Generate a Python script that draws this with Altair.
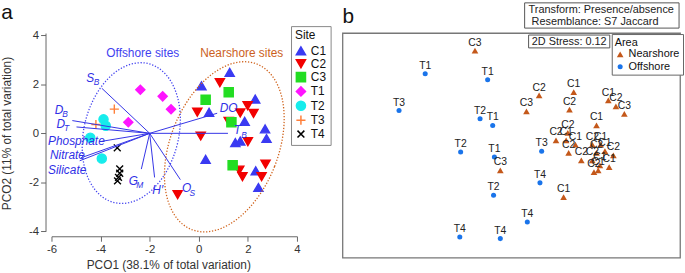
import numpy as np
import pandas as pd
import altair as alt

FONT = "Liberation Sans"

# ---------------- panel a : PCO ordination ----------------
sites = ["C1", "C2", "C3", "T1", "T2", "T3", "T4"]
c1_x = [1.26, 0.11, 0.42, 2.30, 1.87, 2.70, 2.76, 1.49, 1.69, 0.28, 2.32, 2.43]
c1_y = [2.49, 1.94, 0.86, 1.40, 0.49, 0.18, -0.21, -0.38, -0.32, -1.06, -1.53, -2.21]
c2_x = [0.86, -0.06, 0.08, 1.22, 1.69, 1.99, 2.23, 2.00, 2.72, 1.65, 1.78, 2.56, -0.86]
c2_y = [2.07, 0.86, -0.11, 0.49, 0.83, 1.13, 0.81, -0.34, -1.26, -1.50, -1.77, -1.77, -2.50]
c3_x = [1.22, 0.28, 1.33, 1.38]
c3_y = [1.68, 1.37, 0.45, -1.30]
t1_x = [-2.38, -1.47, -1.13, -2.87]
t1_y = [1.78, 1.51, 0.98, 0.45]
t2_x = [-3.88, -3.79, -4.42, -3.95]
t2_y = [0.57, 0.31, -0.18, -1.03]
t3_x = [-3.44, -4.19]
t3_y = [0.99, 0.36]
t4_x = [-3.32, -3.22, -3.22, -3.27, -3.31]
t4_y = [-0.59, -1.45, -1.63, -1.80, -1.94]

# environmental vectors (origin and tips)
vec_origin = (-2.0, 0.0)
vec_x = [-3.95, -5.15, -4.98, -3.97, -4.80, -4.85, -2.34, -1.80, -0.75, 0.75, 1.19]
vec_y = [1.84, 0.52, 0.26, -0.33, -1.00, -1.12, -1.46, -1.80, -1.89, 0.82, 0.0]
lab_main = ["S", "D", "D", "Phosphate", "Nitrate", "Silicate", "G", "H\u2032", "O", "DO", "T"]
lab_sub = ["B", "B", "T", "", "", "", "M", "", "S", "", "B"]
lab_x = [-4.58, -5.87, -5.80, -6.14, -6.06, -6.14, -2.85, -1.89, -0.68, 0.85, 1.42]
lab_y = [2.11, 0.80, 0.22, -0.48, -1.06, -1.64, -2.10, -2.47, -2.41, 0.87, -0.04]

# group ellipses
ell_group = ["Offshore sites", "Nearshore sites"]
ell_cx = [-2.75, 1.04]
ell_cy = [0.01, -0.55]
ell_a = [2.92, 3.63]
ell_b = [1.93, 2.20]
ell_tilt = [13.8, 21.4]
grp_lab_x = [-2.28, 1.75]
grp_lab_y = [3.10, 3.10]

# ---------------- panel b : nMDS ----------------
near_lab = ["C3", "C2", "C1", "C2", "C3", "C1", "C2", "C3", "C1", "C3", "C1",
            "C2", "C2", "C1", "C1", "C2", "C2", "C2", "C1", "C1", "C2", "C2",
            "C2", "C1", "C1", "C2", "C1"]
near_x = [-0.43, 0.33, 0.74, 0.69, 0.18, 1.15, 1.24, 1.34, 1.01, -0.13, 0.62,
          0.67, 0.53, 0.65, 0.76, 0.68, 0.83, 0.96, 1.06, 1.11, 1.21, 1.01,
          0.96, 1.16, 1.05, 0.98, 1.03]
near_y = [1.14, 0.60, 0.64, 0.43, 0.41, 0.54, 0.47, 0.38, 0.24, -0.30, -0.62,
          0.15, 0.06, 0.06, 0.01, -0.09, -0.18, 0.01, 0.01, -0.07, -0.12, -0.09,
          -0.18, -0.26, -0.24, -0.32, -0.30]
off_lab = ["T1", "T1", "T3", "T2", "T1", "T2", "T1", "T3", "T4", "T2", "T4", "T4", "T4"]
off_x = [-1.02, -0.28, -1.33, -0.37, -0.22, -0.60, -0.20, 0.36, 0.34, -0.21, 0.19, -0.61, -0.13]
off_y = [0.86, 0.79, 0.42, 0.32, 0.24, -0.08, -0.14, -0.07, -0.45, -0.60, -0.92, -1.10, -1.12]
stress_text = ["2D Stress: 0.12"]
transform_text = ["Transform: Presence/absence"]
resemblance_text = ["Resemblance: S7 Jaccard"]

# ================= build panel a =================
W_A, H_A = 248, 200.3
xs = alt.Scale(domain=[-6, 4], nice=False, zero=False)
ys = alt.Scale(domain=[-4, 4.093], nice=False, zero=False)
axis_common = dict(grid=False, tickSize=5, labelPadding=2, labelFontSize=11.5,
                   titleFontSize=12, titleFontWeight="normal", labelColor="#333",
                   titleColor="#333", domainColor="#666", tickColor="#666",
                   labelFont=FONT, titleFont=FONT, labelExpr="'' + datum.value",
                   labelFlush=False, labelOverlap=False)
ax_x = alt.Axis(values=[-6, -4, -2, 0, 2, 4], title="PCO1 (38.1% of total variation)",
                offset=5, titleX=118, titleY=32.5, titleAlign="center",
                titleBaseline="alphabetic", **axis_common)
ax_y = alt.Axis(values=[-4, -2, 0, 2, 4], title="PCO2 (11% of total variation)",
                offset=6, titleX=-32, titleY=101, titleAngle=270,
                titleAlign="center", titleBaseline="bottom", **axis_common)
X = alt.X("x:Q", scale=xs, axis=ax_x)
Y = alt.Y("y:Q", scale=ys, axis=ax_y)

rows = []
for s, sx, sy in zip(sites, [c1_x, c2_x, c3_x, t1_x, t2_x, t3_x, t4_x],
                     [c1_y, c2_y, c3_y, t1_y, t2_y, t3_y, t4_y]):
    for a, b in zip(sx, sy):
        rows.append({"site": s, "x": a, "y": b})
pts_a = pd.DataFrame(rows)

site_colors = ["#3a3af2", "#f20000", "#22dd22", "#ff14ff", "#16ecec", "#ff7f3a", "#000000"]
site_fill = site_colors[:5] + ["transparent", "transparent"]
plus_path = "M-1,0L1,0M0,-1L0,1"
x_path = "M-0.75,-0.75L0.75,0.75M-0.75,0.75L0.75,-0.75"
site_shapes = ["triangle-up", "triangle-down", "square", "diamond", "circle", plus_path, x_path]
site_sizes = [85, 85, 50, 75, 55, 100, 80]

leg_a = alt.Legend(title="Site", orient="none", legendX=242, legendY=-7,
                   fillColor="white", strokeColor="#888", padding=4, rowPadding=-1.5,
                   labelFontSize=12, titleFontSize=12, titleFontWeight="normal",
                   labelFont=FONT, titleFont=FONT, labelColor="#111", titleColor="#111",
                   symbolStrokeWidth=1.5, labelOffset=4, titlePadding=3, cornerRadius=0)
pts_layer = alt.Chart(pts_a).mark_point(opacity=1, strokeWidth=1.4).encode(
    x=X, y=Y,
    shape=alt.Shape("site:N", scale=alt.Scale(domain=sites, range=site_shapes), legend=leg_a),
    fill=alt.Fill("site:N", scale=alt.Scale(domain=sites, range=site_fill), legend=leg_a),
    stroke=alt.Stroke("site:N", scale=alt.Scale(domain=sites, range=site_colors), legend=leg_a),
    size=alt.Size("site:N", scale=alt.Scale(domain=sites, range=site_sizes), legend=leg_a),
)

# ellipses outlines
t = np.linspace(0, 2 * np.pi, 145)
ell_layers = []
ell_colors = ["#4646f0", "#d0641e"]
for g, cx, cy, a, b, th, col in zip(ell_group, ell_cx, ell_cy, ell_a, ell_b, ell_tilt, ell_colors):
    r = np.radians(th)
    ex = cx + b * np.cos(t) * np.cos(r) + a * np.sin(t) * np.sin(r)
    ey = cy - b * np.cos(t) * np.sin(r) + a * np.sin(t) * np.cos(r)
    edf = pd.DataFrame({"x": ex, "y": ey, "i": np.arange(len(t))})
    ell_layers.append(
        alt.Chart(edf).mark_line(color=col, strokeWidth=1.3, strokeDash=[1.3, 1.7], clip=False)
        .encode(x=X, y=Y, order="i:Q")
    )

vec_df = pd.DataFrame({"x": [vec_origin[0]] * len(vec_x), "y": [vec_origin[1]] * len(vec_y),
                       "x2": vec_x, "y2": vec_y})
vec_layer = alt.Chart(vec_df).mark_rule(color="#3434e6", strokeWidth=1).encode(
    x=X, y=Y, x2="x2:Q", y2="y2:Q")

lab_df = pd.DataFrame({"x": lab_x, "y": lab_y, "main": lab_main, "sub": lab_sub})
lab_layer = alt.Chart(lab_df).mark_text(align="left", baseline="alphabetic", fontSize=12,
                                        fontStyle="italic", color="#3030e6").encode(
    x=X, y=Y, text="main:N")
sub_layer = alt.Chart(lab_df).mark_text(align="left", baseline="alphabetic", fontSize=8.5,
                                        fontStyle="italic", color="#3030e6", dx=7.6, dy=3.5).encode(
    x=X, y=Y, text="sub:N")

grp_df = pd.DataFrame({"x": grp_lab_x, "y": grp_lab_y, "g": ell_group})
grp_layer = alt.Chart(grp_df).mark_text(align="center", baseline="alphabetic", fontSize=12).encode(
    x=X, y=Y, text="g:N",
    color=alt.Color("g:N", scale=alt.Scale(domain=ell_group, range=["#3f3ff0", "#cc5f1e"]), legend=None))

a_df = pd.DataFrame({"t": ["a"]})
a_layer = alt.Chart(a_df).mark_text(align="left", baseline="top", fontSize=21, color="#111").encode(
    x=alt.value(-50.7), y=alt.value(-31), text="t:N")
bound_a = alt.Chart(a_df).mark_rule(opacity=0, strokeWidth=0).encode(
    x=alt.value(-50.7), x2=alt.value(285.3), y=alt.value(-31))

chart_a = alt.layer(pts_layer, *ell_layers, vec_layer, lab_layer, sub_layer, grp_layer,
                    a_layer, bound_a).properties(
    width=W_A, height=H_A, view=alt.ViewBackground(stroke="transparent"))

# ================= build panel b =================
W_B, H_B = 341, 227
xb = alt.X("x:Q", scale=alt.Scale(domain=[-2, 2], nice=False, zero=False), axis=None)
yb = alt.Y("y:Q", scale=alt.Scale(domain=[-1.35, 1.35], nice=False, zero=False), axis=None)
areas = ["Nearshore", "Offshore"]
pts_b = pd.concat([
    pd.DataFrame({"lab": near_lab, "x": near_x, "y": near_y, "area": "Nearshore"}),
    pd.DataFrame({"lab": off_lab, "x": off_x, "y": off_y, "area": "Offshore"}),
], ignore_index=True)

leg_b = alt.Legend(title="Area", orient="none", legendX=272, legendY=1,
                   fillColor="white", strokeColor="#666", padding=3, rowPadding=0.5,
                   labelFontSize=11, titleFontSize=11, titleFontWeight="normal",
                   labelFont=FONT, titleFont=FONT, labelColor="#111", titleColor="#111",
                   labelOffset=3, titlePadding=1, cornerRadius=0)
pts_b_layer = alt.Chart(pts_b).mark_point(filled=True, opacity=1).encode(
    x=xb, y=yb,
    shape=alt.Shape("area:N", scale=alt.Scale(domain=areas, range=["triangle-up", "circle"]), legend=leg_b),
    color=alt.Color("area:N", scale=alt.Scale(domain=areas, range=["#c4581a", "#1a74ea"]), legend=leg_b),
    size=alt.Size("area:N", scale=alt.Scale(domain=areas, range=[45, 26]), legend=leg_b),
)
lab_b_layer = alt.Chart(pts_b).mark_text(align="center", baseline="alphabetic", dy=-5,
                                         fontSize=10.5, color="#222").encode(
    x=xb, y=yb, text="lab:N")

stress_df = pd.DataFrame({"t": stress_text})
stress_box = alt.Chart(stress_df).mark_rect(fill="white", stroke="#555", strokeWidth=1).encode(
    x=alt.value(188), x2=alt.value(270), y=alt.value(2), y2=alt.value(15))
stress_txt = alt.Chart(stress_df).mark_text(align="center", baseline="alphabetic", fontSize=11,
                                            color="#222").encode(
    x=alt.value(229), y=alt.value(12.5), text="t:N")

tr_df = pd.DataFrame({"t": transform_text})
rs_df = pd.DataFrame({"t": resemblance_text})
tr_box = alt.Chart(tr_df).mark_rect(fill="white", stroke="#555", strokeWidth=1).encode(
    x=alt.value(184), x2=alt.value(340), y=alt.value(-30.5), y2=alt.value(-5))
tr_txt = alt.Chart(tr_df).mark_text(align="left", baseline="alphabetic", fontSize=11,
                                    color="#222").encode(
    x=alt.value(188), y=alt.value(-20), text="t:N")
rs_txt = alt.Chart(rs_df).mark_text(align="left", baseline="alphabetic", fontSize=11,
                                    color="#222").encode(
    x=alt.value(191), y=alt.value(-8.5), text="t:N")

b_df = pd.DataFrame({"t": ["b"]})
b_layer = alt.Chart(b_df).mark_text(align="left", baseline="top", fontSize=21, color="#111").encode(
    x=alt.value(0), y=alt.value(-27.3), text="t:N")

chart_b = alt.layer(pts_b_layer, lab_b_layer, stress_box, stress_txt, tr_box, tr_txt, rs_txt,
                    b_layer).properties(
    width=W_B, height=H_B, view=alt.ViewBackground(stroke="#777", strokeWidth=1.3))

chart = (
    alt.hconcat(chart_a, chart_b, spacing=7)
    .resolve_scale(color="independent", shape="independent", size="independent",
                   fill="independent", stroke="independent")
    .resolve_legend(color="independent", shape="independent", size="independent",
                    fill="independent", stroke="independent")
    .properties(padding=0)
    .configure(font=FONT)
)

chart.save("out.html", embed_options={"renderer": "svg", "actions": False})
